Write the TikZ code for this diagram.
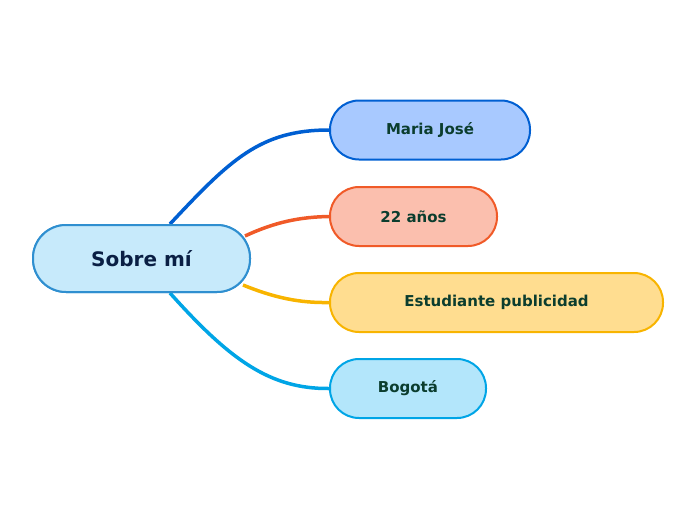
\documentclass[tikz,border=0pt]{standalone}
\usepackage{fontspec}
\setmainfont{DejaVu Sans}
\definecolor{txt}{HTML}{0B3D2E}
\definecolor{ctxt}{HTML}{0A1F44}
\definecolor{cB}{HTML}{005FD2}\definecolor{fB}{HTML}{A8C9FF}
\definecolor{cO}{HTML}{F05A28}\definecolor{fO}{HTML}{FBBFAE}
\definecolor{cY}{HTML}{F8B400}\definecolor{fY}{HTML}{FFDD90}
\definecolor{cC}{HTML}{00A5E6}\definecolor{fC}{HTML}{B3E6FB}
\definecolor{cM}{HTML}{2F8FD0}\definecolor{fM}{HTML}{C7EAFB}
\begin{document}
\begin{tikzpicture}[x=1pt,y=-1pt,
  topic/.style={draw=#1,line width=2pt,rounded corners=29pt,minimum height=59pt,font=\bfseries\fontsize{15}{18}\selectfont,text=txt,inner sep=0pt},
  link/.style={draw=#1,line width=3.5pt}]
\useasboundingbox (0,0) rectangle (696,520);
\node[draw=cM,fill=fM,line width=2pt,rounded corners=33pt,minimum width=217pt,minimum height=67pt,font=\bfseries\fontsize{20}{24}\selectfont,text=ctxt] (m) at (141.5,258.5) {Sobre mí};
\node[topic=cB,fill=fB,minimum width=200pt] (a) at (430,130) {Maria José};
\node[topic=cO,fill=fO,minimum width=167pt] (b) at (413.5,216.5) {22 años};
\node[topic=cY,fill=fY,minimum width=333pt] (c) at (496.5,302.5) {Estudiante publicidad};
\node[topic=cC,fill=fC,minimum width=156pt] (d) at (408,388.5) {Bogotá};
\begin{scope}[on background layer/.style={}]
\end{scope}
\path[link=cB] (170,224) .. controls (230,160) and (260,130) .. (a.west);
\path[link=cO] (245,236) .. controls (275,222) and (300,217) .. (b.west);
\path[link=cY] (243,285) .. controls (275,298) and (300,303) .. (c.west);
\path[link=cC] (170,293) .. controls (230,360) and (270,389) .. (d.west);
\node[draw=cM,fill=fM,line width=2pt,rounded corners=33pt,minimum width=217pt,minimum height=67pt,font=\bfseries\fontsize{20}{24}\selectfont,text=ctxt] at (m) {Sobre mí};
\end{tikzpicture}
\end{document}
